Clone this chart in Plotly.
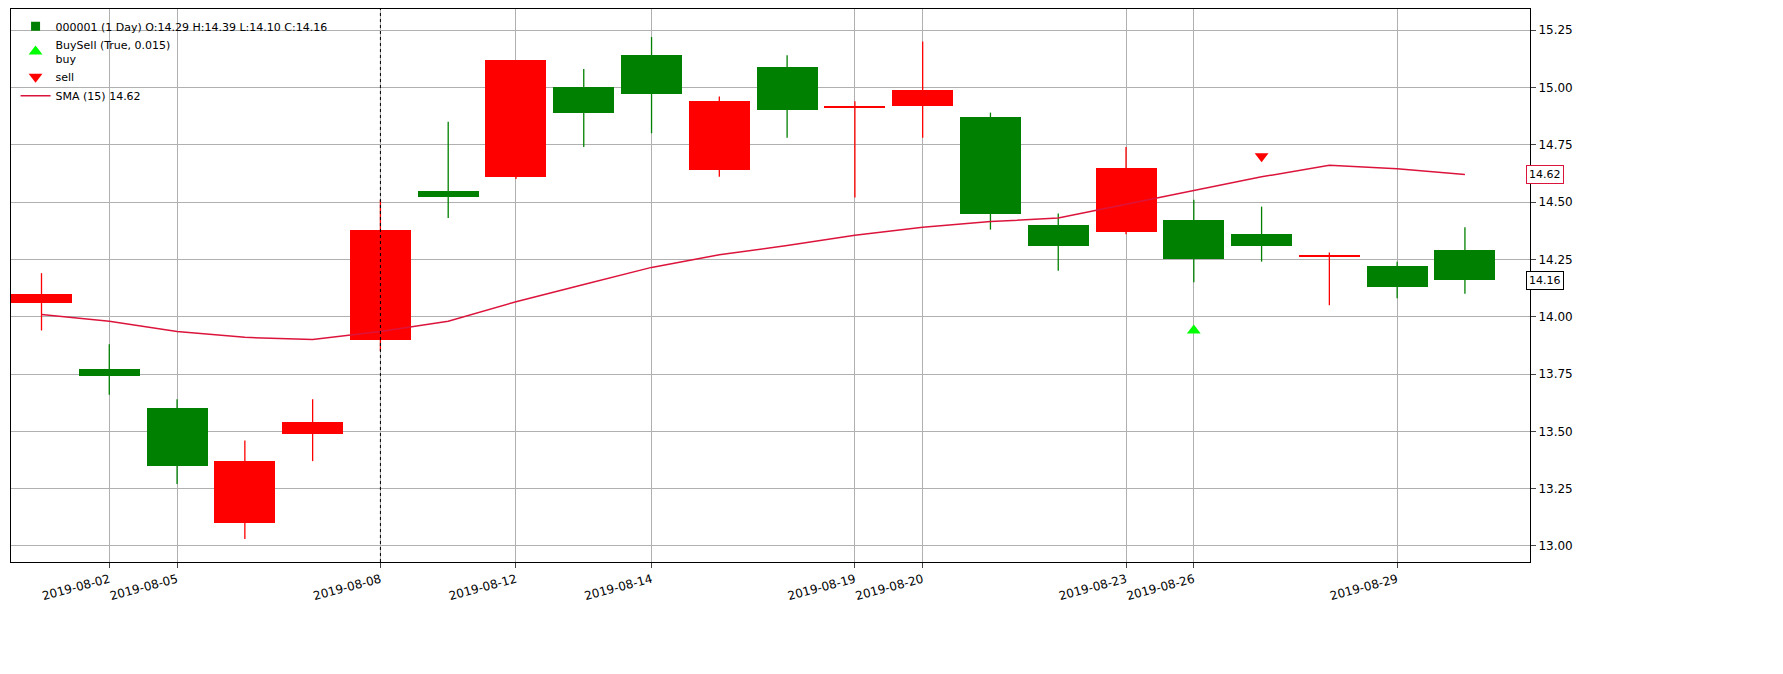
import plotly.graph_objects as go

dates = ["2019-08-01","2019-08-02","2019-08-05","2019-08-06","2019-08-07","2019-08-08","2019-08-09",
         "2019-08-12","2019-08-13","2019-08-14","2019-08-15","2019-08-16","2019-08-19","2019-08-20",
         "2019-08-21","2019-08-22","2019-08-23","2019-08-26","2019-08-27","2019-08-28","2019-08-29","2019-08-30"]
opens  = [14.06,13.77,13.60,13.10,13.49,13.90,14.55,14.61,15.00,15.14,14.64,15.09,14.91,14.92,14.87,14.40,14.37,14.42,14.36,14.26,14.22,14.29]
highs  = [14.19,13.88,13.64,13.46,13.64,14.51,14.85,15.12,15.08,15.22,14.96,15.14,14.94,15.20,14.89,14.45,14.74,14.51,14.48,14.28,14.24,14.39]
lows   = [13.94,13.66,13.27,13.03,13.37,13.85,14.43,14.60,14.74,14.80,14.61,14.78,14.52,14.78,14.38,14.20,14.36,14.15,14.24,14.05,14.08,14.10]
closes = [14.10,13.74,13.35,13.37,13.54,14.38,14.52,15.12,14.89,14.97,14.94,14.90,14.92,14.99,14.45,14.31,14.65,14.25,14.31,14.27,14.13,14.16]
sma15  = [14.01,13.98,13.935,13.91,13.90,13.935,13.98,14.065,14.14,14.215,14.27,14.31,14.355,14.39,14.415,14.43,14.49,14.55,14.61,14.66,14.645,14.62]
buy_idx, buy_val = [17], [13.94]
sell_idx, sell_val = [18], [14.70]
tick_idx = [1,2,5,7,9,12,13,16,17,20]
marker_line_idx = 5

n = len(dates)
xs = list(range(n))
fig = go.Figure()

for up, col in [(True, "red"), (False, "green")]:
    idx = [i for i in xs if (closes[i] >= opens[i]) == up]
    wx, wy = [], []
    for i in idx:
        wx += [i, i, None]; wy += [lows[i], highs[i], None]
    fig.add_trace(go.Scatter(x=wx, y=wy, mode="lines", line=dict(color=col, width=1.3),
                             showlegend=False, hoverinfo="skip"))
    fig.add_trace(go.Bar(x=idx, base=[min(opens[i], closes[i]) for i in idx],
                         y=[max(abs(closes[i]-opens[i]), 0.008) for i in idx],
                         width=0.9, marker=dict(color=col, line=dict(width=0)),
                         showlegend=False))

fig.add_trace(go.Scatter(x=[None], y=[None], mode="markers",
                         marker=dict(symbol="square", color="green", size=9),
                         name="000001 (1 Day) O:14.29 H:14.39 L:14.10 C:14.16"))
fig.add_trace(go.Scatter(x=buy_idx, y=buy_val, mode="markers",
                         marker=dict(symbol="triangle-up", color="lime", size=12),
                         name="BuySell (True, 0.015)<br>buy"))
fig.add_trace(go.Scatter(x=sell_idx, y=sell_val, mode="markers",
                         marker=dict(symbol="triangle-down", color="red", size=12), name="sell"))
fig.add_trace(go.Scatter(x=xs, y=sma15, mode="lines", line=dict(color="crimson", width=1.5),
                         name="SMA (15) 14.62"))

fig.add_vline(x=marker_line_idx, line=dict(color="black", width=1, dash="dot"))

fig.add_annotation(x=1, xref="paper", y=sma15[-1], text="14.62", showarrow=False, xanchor="left",
                   xshift=-4, font=dict(size=11, color="black"), bordercolor="crimson", borderwidth=1,
                   bgcolor="white", borderpad=2)
fig.add_annotation(x=1, xref="paper", y=closes[-1], text="14.16", showarrow=False, xanchor="left",
                   xshift=-4, font=dict(size=11, color="black"), bordercolor="black", borderwidth=1,
                   bgcolor="white", borderpad=2)

fig.update_layout(
    width=1783, height=674, plot_bgcolor="white", paper_bgcolor="white",
    margin=dict(l=3, r=261, t=1, b=120), barmode="overlay", bargap=0,
    font=dict(family="DejaVu Sans", size=12, color="black"),
    legend=dict(x=0.003, y=0.995, xanchor="left", yanchor="top", bgcolor="rgba(255,255,255,0)",
                font=dict(size=11), tracegroupgap=0),
    xaxis=dict(range=[-0.45, 21.96], tickmode="array", tickvals=tick_idx,
               ticktext=[dates[i] for i in tick_idx], tickangle=-15, showgrid=True,
               gridcolor="#b0b0b0", showline=True, linecolor="black", mirror=True,
               ticks="outside", zeroline=False),
    yaxis=dict(range=[12.93, 15.342], side="right", tickvals=[13+0.25*k for k in range(10)],
               tickformat=".2f", showgrid=True, gridcolor="#b0b0b0", showline=True,
               linecolor="black", mirror=True, ticks="outside", zeroline=False),
)
fig.write_html("out.html")
